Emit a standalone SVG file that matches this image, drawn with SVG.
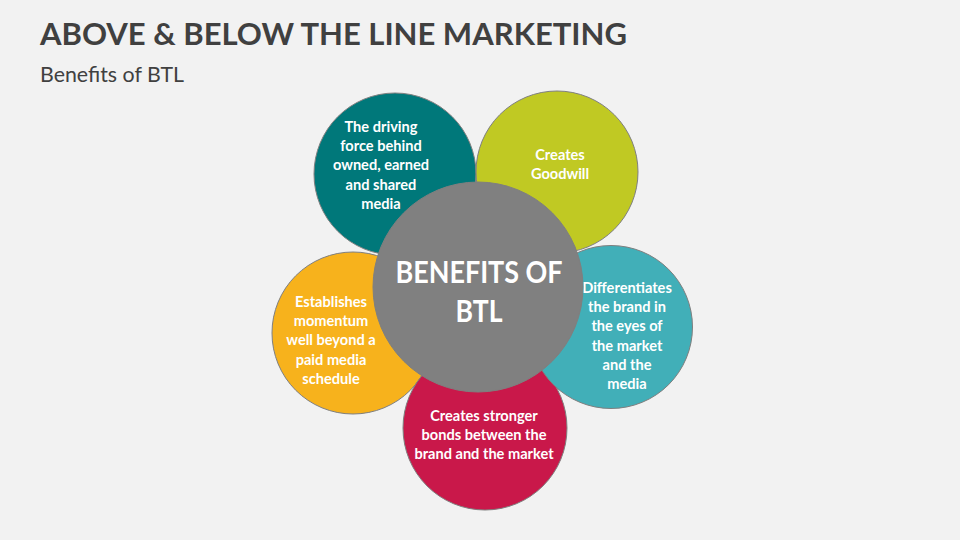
<svg xmlns="http://www.w3.org/2000/svg" width="960" height="540" viewBox="0 0 960 540">
<style>
.c{stroke:#7f7f7f;stroke-width:1}
.t{font-family:Lato,"Open Sans",sans-serif;font-weight:bold;font-size:14.6px;fill:#fff;text-anchor:middle}
.h{font-family:Lato,"Open Sans",sans-serif;font-weight:bold;font-size:30px;fill:#fff;text-anchor:middle}
</style>
<rect width="960" height="540" fill="#f2f2f2"/>
<text x="40" y="45" font-family="Lato,'Open Sans',sans-serif" font-weight="bold" font-size="31" fill="#404040" textLength="587" lengthAdjust="spacingAndGlyphs">ABOVE &amp; BELOW THE LINE MARKETING</text>
<text x="40" y="82" font-family="Lato,'Open Sans',sans-serif" font-size="21" fill="#404040" textLength="144" lengthAdjust="spacingAndGlyphs">Benefits of BTL</text>
<g id="node-owned">
<circle class="c" cx="395" cy="174" r="81" fill="#00787a"/>
<text class="t"><tspan x="381" y="132">The driving</tspan><tspan x="381" y="151">force behind</tspan><tspan x="381" y="170">owned, earned</tspan><tspan x="381" y="190">and shared</tspan><tspan x="381" y="209">media</tspan></text>
</g>
<g id="node-goodwill">
<circle class="c" cx="557" cy="172" r="81" fill="#c0c923"/>
<text class="t"><tspan x="560" y="160">Creates</tspan><tspan x="560" y="179">Goodwill</tspan></text>
</g>
<g id="node-momentum">
<circle class="c" cx="353" cy="333" r="81" fill="#f7b21c"/>
<text class="t"><tspan x="331" y="307">Establishes</tspan><tspan x="331" y="326">momentum</tspan><tspan x="331" y="345">well beyond a</tspan><tspan x="331" y="365">paid media</tspan><tspan x="331" y="384">schedule</tspan></text>
</g>
<g id="node-bonds">
<circle class="c" cx="485" cy="428" r="82" fill="#c9184a"/>
<text class="t"><tspan x="484" y="421">Creates stronger</tspan><tspan x="484" y="440">bonds between the</tspan><tspan x="484" y="459">brand and the market</tspan></text>
</g>
<g id="node-differentiates">
<circle class="c" cx="611" cy="327" r="81.5" fill="#41afb8"/>
<text class="t"><tspan x="627" y="293">Differentiates</tspan><tspan x="627" y="312">the brand in</tspan><tspan x="627" y="331">the eyes of</tspan><tspan x="627" y="351">the market</tspan><tspan x="627" y="370">and the</tspan><tspan x="627" y="389">media</tspan></text>
</g>
<g id="node-center">
<circle class="c" cx="478" cy="287" r="105" fill="#808080"/>
<text class="h" x="479" y="283" textLength="167" lengthAdjust="spacingAndGlyphs">BENEFITS OF</text>
<text class="h" x="479" y="322" textLength="47" lengthAdjust="spacingAndGlyphs">BTL</text>
</g>
<g id="connectors"/>
</svg>
